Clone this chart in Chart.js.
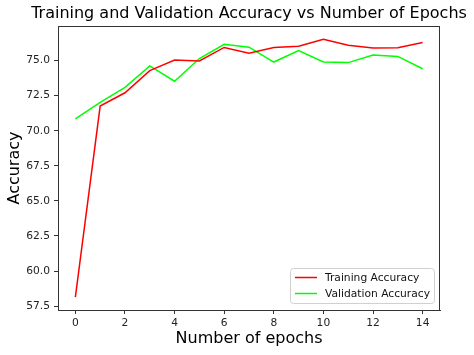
<!DOCTYPE html>
<html>
<head>
<meta charset="utf-8">
<script src="https://cdn.jsdelivr.net/npm/chart.js@4/dist/chart.umd.min.js"></script>
<style>
  html, body { margin: 0; padding: 0; background: #fff; }
  #wrap { width: 474px; height: 355px; }
</style>
</head>
<body>
<div id="wrap"><canvas id="c" width="474" height="355"></canvas></div>
<script>
const epochs = [0, 1, 2, 3, 4, 5, 6, 7, 8, 9, 10, 11, 12, 13, 14];
const trainingAccuracy = [58.14, 71.76, 72.71, 74.29, 75.05, 74.98, 75.94, 75.53, 75.94, 76.03, 76.53, 76.1, 75.9, 75.92, 76.29];
const validationAccuracy = [70.84, 72.03, 73.1, 74.62, 73.53, 75.15, 76.17, 75.96, 74.9, 75.72, 74.9, 74.86, 75.4, 75.3, 74.42];
const xTicks = [0, 2, 4, 6, 8, 10, 12, 14];
const yTicks = [57.5, 60.0, 62.5, 65.0, 67.5, 70.0, 72.5, 75.0];

const FONT = "'DejaVu Sans', 'Liberation Sans', sans-serif";

const frameAndLegend = {
  id: 'frameAndLegend',
  afterLayout(chart) {
    const a = chart.chartArea;
    const tb = chart.titleBlock;
    if (tb) {
      const cx = (a.left + a.right) / 2;
      tb.left = cx - 237;
      tb.right = cx + 237;
    }
  },
  afterDatasetsDraw(chart) {
    const ctx = chart.ctx;
    const a = chart.chartArea;
    ctx.save();
    ctx.strokeStyle = '#333';
    ctx.lineWidth = 1;
    ctx.strokeRect(Math.round(a.left) + 0.5, Math.round(a.top) + 0.5,
      Math.round(a.right - a.left) - 1, Math.round(a.bottom - a.top));
    // legend
    const bx = 290.5, by = 268.5, bw = 144, bh = 35, r = 3;
    ctx.beginPath();
    ctx.moveTo(bx + r, by);
    ctx.lineTo(bx + bw - r, by);
    ctx.arcTo(bx + bw, by, bx + bw, by + r, r);
    ctx.lineTo(bx + bw, by + bh - r);
    ctx.arcTo(bx + bw, by + bh, bx + bw - r, by + bh, r);
    ctx.lineTo(bx + r, by + bh);
    ctx.arcTo(bx, by + bh, bx, by + bh - r, r);
    ctx.lineTo(bx, by + r);
    ctx.arcTo(bx, by, bx + r, by, r);
    ctx.closePath();
    ctx.fillStyle = 'rgba(255,255,255,0.8)';
    ctx.fill();
    ctx.strokeStyle = '#d0d0d0';
    ctx.stroke();
    ctx.font = '10.7px ' + FONT;
    ctx.textBaseline = 'middle';
    ctx.textAlign = 'left';
    chart.data.datasets.forEach((ds, i) => {
      const y = 277.5 + i * 16;
      ctx.strokeStyle = ds.borderColor;
      ctx.lineWidth = 1.5;
      ctx.beginPath();
      ctx.moveTo(295, y);
      ctx.lineTo(317, y);
      ctx.stroke();
      ctx.fillStyle = '#111';
      ctx.fillText(ds.label, 325, y + 0.5);
    });
    ctx.restore();
  }
};

new Chart(document.getElementById('c'), {
  type: 'line',
  data: {
    datasets: [
      {
        label: 'Training Accuracy',
        data: epochs.map((e, i) => ({ x: e, y: trainingAccuracy[i] })),
        borderColor: '#ff0000',
        borderWidth: 1.5,
        pointRadius: 0,
        tension: 0,
        fill: false
      },
      {
        label: 'Validation Accuracy',
        data: epochs.map((e, i) => ({ x: e, y: validationAccuracy[i] })),
        borderColor: '#00ff00',
        borderWidth: 1.5,
        pointRadius: 0,
        tension: 0,
        fill: false
      }
    ]
  },
  options: {
    responsive: false,
    animation: false,
    devicePixelRatio: 1,
    layout: { padding: { left: 0, right: 34, top: 0, bottom: 0 } },
    plugins: {
      legend: { display: false },
      tooltip: { enabled: false },
      title: {
        display: true,
        text: 'Training and Validation Accuracy vs Number of Epochs',
        color: '#000',
        font: { family: FONT, size: 16, weight: 'normal', lineHeight: 1.2 },
        padding: { top: 4.5, bottom: 2.3 }
      }
    },
    scales: {
      x: {
        type: 'linear',
        min: -0.7,
        max: 14.7,
        afterBuildTicks(scale) { scale.ticks = xTicks.map(v => ({ value: v })); },
        afterFit(scale) { scale.height = 45; },
        ticks: {
          color: '#222',
          font: { family: FONT, size: 10.7 },
          padding: 3,
          maxRotation: 0,
          callback: v => String(v)
        },
        grid: { display: true, drawOnChartArea: false, drawTicks: true, tickLength: 4, color: '#333' },
        border: { display: true, color: '#333' },
        title: {
          display: true,
          text: 'Number of epochs',
          color: '#000',
          font: { family: FONT, size: 16, lineHeight: 1.2 },
          padding: { top: 0, bottom: 6.4 }
        }
      },
      y: {
        type: 'linear',
        min: 57.22,
        max: 77.47,
        afterBuildTicks(scale) { scale.ticks = yTicks.map(v => ({ value: v })); },
        afterFit(scale) { scale.width = 58; },
        ticks: {
          color: '#222',
          font: { family: FONT, size: 10.7 },
          padding: 4,
          callback: v => Number(v).toFixed(1)
        },
        grid: { display: true, drawOnChartArea: false, drawTicks: true, tickLength: 4, color: '#333' },
        border: { display: true, color: '#333' },
        title: {
          display: true,
          text: 'Accuracy',
          color: '#000',
          font: { family: FONT, size: 16, lineHeight: 1.2 },
          padding: { top: 5.4, bottom: 0 }
        }
      }
    }
  },
  plugins: [frameAndLegend]
});
</script>
</body>
</html>
